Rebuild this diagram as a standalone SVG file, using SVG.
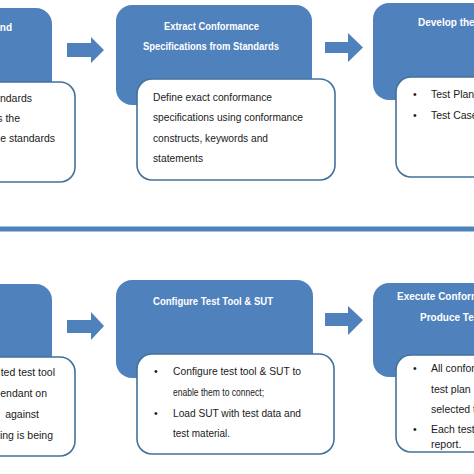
<svg xmlns="http://www.w3.org/2000/svg" width="474" height="474" viewBox="0 0 474 474">
<style>
.blue{fill:#4f81bd;}
.card{fill:#ffffff;stroke:#41719c;stroke-width:1.6;}
.title{font-family:"Liberation Sans",Arial,sans-serif;font-size:10px;font-weight:bold;fill:#ffffff;}
.body{font-family:"Liberation Sans",Arial,sans-serif;font-size:10.5px;fill:#1a1a1a;}
.arrow{fill:#4f81bd;}
</style>
<rect x="0" y="0" width="474" height="474" fill="#ffffff"/>

<g id="node-top-left">
<rect class="blue" x="-150" y="8" width="202" height="97" rx="16"/>
<text class="title" x="12" y="31" text-anchor="end">and</text>
<rect class="card" x="-100" y="82" width="175" height="100" rx="15"/>
<text class="body" x="32" y="102" text-anchor="end">ndards</text>
<text class="body" x="20" y="122" text-anchor="end">s the</text>
<text class="body" x="55" y="142" text-anchor="end">se standards</text>
</g>

<g id="node-top-middle">
<rect class="blue" x="116" y="5" width="196" height="100" rx="16"/>
<text class="title" x="211.5" y="30" text-anchor="middle" textLength="95" lengthAdjust="spacingAndGlyphs">Extract Conformance</text>
<text class="title" x="211" y="50" text-anchor="middle" textLength="136" lengthAdjust="spacingAndGlyphs">Specifications  from Standards</text>
<rect class="card" x="137" y="79" width="198" height="101" rx="15"/>
<text class="body" x="153" y="101" textLength="119" lengthAdjust="spacingAndGlyphs">Define exact conformance</text>
<text class="body" x="153" y="121" textLength="150" lengthAdjust="spacingAndGlyphs">specifications using conformance</text>
<text class="body" x="153" y="142" textLength="115" lengthAdjust="spacingAndGlyphs">constructs, keywords and</text>
<text class="body" x="153" y="162" textLength="50" lengthAdjust="spacingAndGlyphs">statements</text>
</g>

<g id="node-top-right">
<rect class="blue" x="373" y="3" width="230" height="97" rx="16"/>
<text class="title" x="418" y="26">Develop the</text>
<rect class="card" x="396" y="77" width="210" height="100" rx="15"/>
<text class="body" x="413" y="98">•</text>
<text class="body" x="431" y="98">Test Plan</text>
<text class="body" x="413" y="119">•</text>
<text class="body" x="431" y="119">Test Case</text>
</g>

<g id="separator">
<rect x="0" y="226.5" width="474" height="5" fill="#4f81bd"/>
</g>

<g id="node-bottom-left">
<rect class="blue" x="-150" y="284" width="202" height="96" rx="16"/>
<rect class="card" x="-100" y="357" width="175" height="99" rx="15"/>
<text class="body" x="55" y="376" text-anchor="end">ted test tool</text>
<text class="body" x="47" y="397" text-anchor="end">endant on</text>
<text class="body" x="39" y="418" text-anchor="end">against</text>
<text class="body" x="53" y="439" text-anchor="end">cing is being</text>
</g>

<g id="node-bottom-middle">
<rect class="blue" x="116" y="280" width="197" height="98" rx="16"/>
<text class="title" x="213" y="305" text-anchor="middle" textLength="120" lengthAdjust="spacingAndGlyphs">Configure  Test Tool  &amp; SUT</text>
<rect class="card" x="137" y="354" width="197" height="100" rx="15"/>
<text class="body" x="154" y="375">•</text>
<text class="body" x="173" y="375" textLength="128" lengthAdjust="spacingAndGlyphs">Configure test tool &amp; SUT to</text>
<text class="body" x="173" y="396" textLength="91" lengthAdjust="spacingAndGlyphs">enable them to connect;</text>
<text class="body" x="154" y="417">•</text>
<text class="body" x="173" y="417" textLength="128" lengthAdjust="spacingAndGlyphs">Load SUT with test data and</text>
<text class="body" x="173" y="437" textLength="57" lengthAdjust="spacingAndGlyphs">test material.</text>
</g>

<g id="node-bottom-right">
<rect class="blue" x="373" y="283" width="230" height="94" rx="16"/>
<text class="title" x="397" y="300">Execute Conform</text>
<text class="title" x="420" y="321">Produce Tes</text>
<rect class="card" x="396" y="355" width="210" height="97" rx="15"/>
<text class="body" x="413" y="372">•</text>
<text class="body" x="431" y="372">All confor</text>
<text class="body" x="431" y="393">test plan</text>
<text class="body" x="431" y="413">selected t</text>
<text class="body" x="413" y="433">•</text>
<text class="body" x="431" y="433">Each test</text>
<text class="body" x="431" y="448">report.</text>
</g>

<g id="connectors">
<polygon class="arrow" points="67,43 91,43 91,37 104,50 91,63 91,57 67,57"/>
<polygon class="arrow" points="325,42 348,42 348,33 363,47.5 348,62 348,53 325,53"/>
<polygon class="arrow" points="67,320 91,320 91,312 104,326 91,340 91,333 67,333"/>
<polygon class="arrow" points="325,313 348,313 348,306 363,320 348,335 348,326 325,326"/>
</g>
</svg>
